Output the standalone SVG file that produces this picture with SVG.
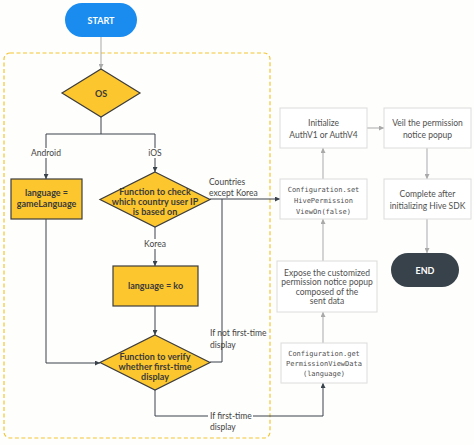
<svg xmlns="http://www.w3.org/2000/svg" width="474" height="445" viewBox="0 0 474 445">
<defs>
<marker id="ad" viewBox="0 0 6 6" refX="6" refY="3" markerWidth="5" markerHeight="5" orient="auto" markerUnits="userSpaceOnUse"><path d="M0,0 L6,3 L0,6 Z" fill="#3a434b"/></marker>
<marker id="ag" viewBox="0 0 6 6" refX="6" refY="3" markerWidth="5" markerHeight="5" orient="auto" markerUnits="userSpaceOnUse"><path d="M0,0 L6,3 L0,6 Z" fill="#a9a9a9"/></marker>
</defs>
<style>
text{font-family:Lato,"Noto Sans",sans-serif;text-anchor:middle;}
.y{fill:#fcc62e;stroke:#3c3c3c;stroke-width:1.2;}
.yt{font-size:9px;font-weight:bold;fill:#3a3a3a;}
.g{fill:#ffffff;stroke:#dcdcdc;stroke-width:1;}
.gt{font-size:8.5px;fill:#505050;}
.mt{font-family:"DejaVu Sans Mono","Liberation Mono",monospace;font-size:7px;fill:#505050;}
.lb{font-size:8.5px;fill:#444;}
.lbl{font-size:8.5px;fill:#444;text-anchor:start;}
.cd{fill:none;stroke:#3a434b;stroke-width:1;}
.cg{fill:none;stroke:#a9a9a9;stroke-width:1;}
.pt{font-size:9px;font-weight:bold;fill:#fff;}
</style>
<rect width="474" height="445" fill="#fefefd"/>
<rect id="container" x="4" y="53" width="266" height="385" rx="6" fill="none" stroke="#f2c534" stroke-width="1.2" stroke-dasharray="4,2.5"/>
<g id="connectors">
<path class="cg" d="M101,37 V69" marker-end="url(#ag)"/>
<path class="cd" d="M101,117 V134 M46,134 H155"/>
<path class="cd" d="M46,134 V148 M46,158 V179" marker-end="url(#ad)"/>
<path class="cd" d="M155,134 V148 M155,158 V172" marker-end="url(#ad)"/>
<path class="cd" d="M155,227 V239 M155,249 V266" marker-end="url(#ad)"/>
<path class="cd" d="M155,306 V335" marker-end="url(#ad)"/>
<path class="cd" d="M46,219 V363 H100" marker-end="url(#ad)"/>
<path class="cd" d="M210,199 H280" marker-end="url(#ad)"/>
<path class="cd" d="M210,362 H222 V199"/>
<path class="cd" d="M155,390 V416 H208 M253,416 H323 V383" marker-end="url(#ad)"/>
<path class="cg" d="M323,179 V148" marker-end="url(#ag)"/>
<path class="cg" d="M367,128 H384" marker-end="url(#ag)"/>
<path class="cg" d="M427,148 V179" marker-end="url(#ag)"/>
<path class="cg" d="M427,219 V253" marker-end="url(#ag)"/>
<path class="cg" d="M323,261 V219" marker-end="url(#ag)"/>
<path class="cg" d="M323,343 V312" marker-end="url(#ag)"/>
<text class="lb" x="46" y="156">Android</text>
<text class="lb" x="155" y="156">iOS</text>
<text class="lb" x="155" y="247">Korea</text>
<text class="lbl" x="209" y="185">Countries</text>
<text class="lbl" x="209" y="196">except Korea</text>
<text class="lbl" x="210" y="336">If not first-time</text>
<text class="lbl" x="210" y="348">display</text>
<text class="lbl" x="210" y="419">If first-time</text>
<text class="lbl" x="210" y="430">display</text>
</g>
<g id="start">
<rect x="65" y="3" width="72" height="34" rx="17" fill="#1a8cf0"/>
<text class="pt" x="101" y="23.5">START</text>
</g>
<g id="os">
<polygon class="y" points="101,69 140,93 101,117 62,93"/>
<text class="yt" x="101" y="96.5">OS</text>
</g>
<g id="android-lang">
<rect class="y" x="11" y="179" width="71" height="40"/>
<text class="yt" x="46.5" y="196">language =</text>
<text class="yt" x="46.5" y="207">gameLanguage</text>
</g>
<g id="check-country">
<polygon class="y" points="155,172 210,199.5 155,227 100,199.5"/>
<text class="yt" x="155" y="195">Function to check</text>
<text class="yt" x="155" y="205">which country user IP</text>
<text class="yt" x="155" y="215">is based on</text>
</g>
<g id="lang-ko">
<rect class="y" x="113" y="266" width="85" height="40"/>
<text class="yt" x="155.5" y="288.5">language = ko</text>
</g>
<g id="verify-first">
<polygon class="y" points="155,335 210,362.5 155,390 100,362.5"/>
<text class="yt" x="155" y="360">Function to verify</text>
<text class="yt" x="155" y="370">whether first-time</text>
<text class="yt" x="155" y="380">display</text>
</g>
<g id="init-auth">
<rect class="g" x="280" y="108" width="87" height="40"/>
<text class="gt" x="323.5" y="126">Initialize</text>
<text class="gt" x="323.5" y="138">AuthV1 or AuthV4</text>
</g>
<g id="veil">
<rect class="g" x="384" y="108" width="87" height="40"/>
<text class="gt" x="427.5" y="126">Veil the permission</text>
<text class="gt" x="427.5" y="138">notice popup</text>
</g>
<g id="config-set">
<rect class="g" x="280" y="179" width="87" height="40"/>
<text class="mt" x="323.5" y="191.5">Configuration.set</text>
<text class="mt" x="323.5" y="202.5">HivePermission</text>
<text class="mt" x="323.5" y="213.5">ViewOn(false)</text>
</g>
<g id="complete">
<rect class="g" x="384" y="179" width="87" height="40"/>
<text class="gt" x="427.5" y="197">Complete after</text>
<text class="gt" x="427.5" y="209">initializing Hive SDK</text>
</g>
<g id="end">
<rect x="391" y="253" width="68" height="34" rx="17" fill="#37424a"/>
<text class="pt" x="425" y="273.5">END</text>
</g>
<g id="expose">
<rect class="g" x="277" y="261" width="100" height="51"/>
<text class="gt" x="327" y="275.5">Expose the customized</text>
<text class="gt" x="327" y="285">permission notice popup</text>
<text class="gt" x="327" y="294.5">composed of the</text>
<text class="gt" x="327" y="304">sent data</text>
</g>
<g id="config-get">
<rect class="g" x="281" y="343" width="86" height="40"/>
<text class="mt" x="324" y="355.5">Configuration.get</text>
<text class="mt" x="324" y="365.5">PermissionViewData</text>
<text class="mt" x="324" y="375.5">(language)</text>
</g>
</svg>
